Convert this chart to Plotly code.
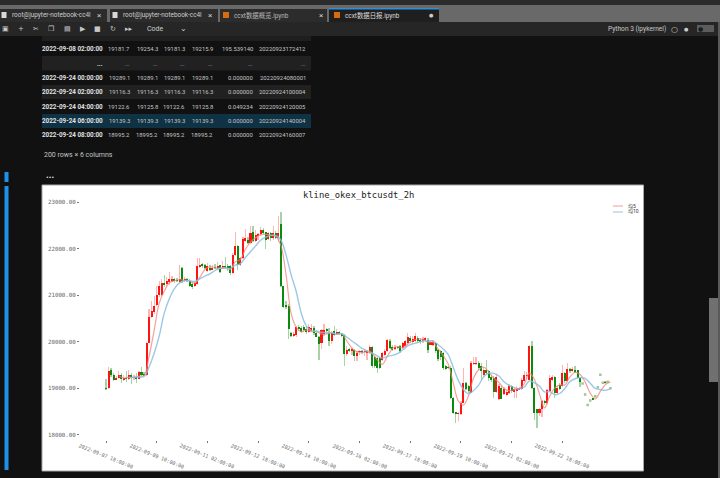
import pandas as pd
import plotly.graph_objects as go

# kline data (2h bars)
times = pd.date_range("2022-09-07 18:00:00", periods=200, freq="2h").strftime("%Y-%m-%d %H:%M:%S").tolist()

opens = [
    19002, 19000, 19380, 19290, 19181.7, 19215, 19280, 19190, 19215, 19200,
    19290, 19220, 19230, 19200, 19340, 19300, 19290, 19980, 20540, 20630,
    20790, 21000, 21010, 21270, 21240, 21300, 21300, 21350, 21320, 21280,
    21590, 21300, 21350, 21310, 21240, 21200, 21250, 21600, 21670, 21640,
    21520, 21590, 21560, 21600, 21590, 21640, 21600, 21620, 21610, 21620,
    21470, 21870, 22060, 21650, 21800, 22170, 22180, 22120, 22350, 22170,
    22280, 22310, 22400, 22350, 22200, 22330, 22230, 22340, 22230, 22540,
    21190, 20790, 20760, 20190, 20130, 20150, 20300, 20290, 20310, 20270,
    20200, 20220, 20300, 20180, 20110, 19970, 20170, 20260, 20190, 20010,
    20220, 20170, 20200, 20150, 20150, 19730, 19840, 19800, 19830, 19690,
    19780, 19790, 19780, 19760, 19750, 19880, 19670, 19650, 19650, 19610,
    19720, 19790, 20005, 19880, 19860, 19880, 19900, 19860, 19910, 19970,
    20075, 19985, 20005, 20075, 20040, 20005, 20040, 20040, 19935, 19935,
    19970, 19830, 19790, 19755, 19470, 19450, 19430, 18790, 18470, 18450,
    18450, 18680, 19110, 19040, 18900, 19530, 19530, 19540, 19470, 19280,
    19380, 19360, 19250, 19220, 18920, 18770, 19000, 18880, 18860, 18900,
    19040, 18910, 18930, 18970, 18980, 19150, 19270, 19180, 19900, 19000,
    18540, 18470, 18540, 18720, 18670, 18930, 19180, 19240, 18890, 19070,
    19040, 19320, 19150, 19410, 19370, 19400, 19380, 19220, 19097, 18861,
    18639, 18732, 18790, 18825, 19018, 19289.1, 19116.3, 19122.6, 19139.3, 18995.2,
]
closes = [
    18998, 19360, 19290, 19180, 19215.9, 19280, 19190, 19215, 19200, 19290,
    19220, 19230, 19200, 19340, 19300, 19280, 19980, 20540, 20650, 20760,
    21000, 21190, 21260, 21240, 21300, 21340, 21350, 21320, 21310, 21340,
    21300, 21350, 21320, 21200, 21170, 21260, 21620, 21660, 21620, 21600,
    21620, 21560, 21590, 21590, 21610, 21500, 21620, 21600, 21590, 21470,
    21870, 22060, 21650, 21800, 22200, 22240, 22130, 22340, 22170, 22300,
    22310, 22400, 22340, 22190, 22330, 22230, 22340, 22230, 22345, 21190,
    20750, 20740, 20270, 20130, 20150, 20310, 20280, 20200, 20270, 20200,
    20310, 20300, 20180, 20110, 19960, 20260, 20260, 20240, 20010, 20190,
    20150, 20200, 20180, 20130, 19730, 19830, 19800, 19830, 19690, 19760,
    19790, 19780, 19790, 19790, 19880, 19470, 19470, 19430, 19430, 19750,
    19790, 20030, 19860, 19830, 19880, 19870, 19790, 19970, 20005, 20090,
    20005, 20055, 20130, 20005, 19985, 20055, 20075, 19830, 19985, 19985,
    19790, 19625, 19680, 19430, 19410, 19440, 18790, 18470, 18450, 18460,
    18690, 19110, 18980, 18930, 19530, 19540, 19540, 19430, 19360, 19400,
    19320, 19220, 19180, 18920, 19250, 19040, 18770, 18980, 18910, 19040,
    18930, 18980, 19000, 19000, 19180, 19280, 19280, 19900, 19000, 18470,
    18470, 18540, 18720, 18670, 18970, 19220, 19250, 18890, 19000, 18980,
    19320, 19150, 19410, 19360, 19400, 19360, 19220, 19130, 19097, 18861,
    18639, 18732, 18760, 18825, 19018, 19289.1, 19116.3, 19125.8, 19139.3, 18995.2,
]
highs = [
    19197, 19450, 19430, 19320, 19254.3, 19370, 19320, 19280, 19360, 19380,
    19330, 19290, 19320, 19370, 19450, 19350, 20000, 20710, 20870, 20980,
    21190, 21300, 21350, 21440, 21400, 21500, 21420, 21380, 21370, 21650,
    21610, 21400, 21380, 21340, 21280, 21300, 21800, 21800, 21700, 21680,
    21700, 21640, 21650, 21670, 21720, 21660, 21740, 21830, 21680, 21650,
    21900, 22350, 22080, 21830, 22250, 22430, 22260, 22490, 22490, 22400,
    22340, 22460, 22440, 22370, 22370, 22370, 22480, 22380, 22700, 22800,
    21200, 20880, 20800, 20210, 20200, 20340, 20350, 20330, 20350, 20330,
    20370, 20370, 20340, 20200, 20130, 20280, 20390, 20290, 20300, 20230,
    20330, 20270, 20230, 20180, 20170, 19900, 19870, 19870, 19850, 19790,
    19820, 19830, 19830, 19820, 19920, 19900, 19690, 19670, 19670, 19770,
    19840, 20060, 20060, 19920, 19920, 19910, 19920, 19990, 20030, 20190,
    20130, 20120, 20180, 20120, 20070, 20100, 20110, 20070, 20020, 20040,
    20000, 19850, 19810, 19770, 19490, 19470, 19470, 18800, 18490, 18480,
    18720, 19430, 19140, 19060, 19580, 19680, 19680, 19580, 19540, 19450,
    19600, 19400, 19290, 19260, 19300, 19090, 19040, 19020, 18950, 19080,
    19060, 19020, 19040, 19030, 19210, 19360, 19340, 19930, 20010, 19020,
    18560, 18570, 18740, 18740, 18990, 19290, 19290, 19260, 19040, 19100,
    19500, 19340, 19530, 19430, 19450, 19480, 19400, 19240, 19097, 18861,
    18639, 18732, 18790, 18825, 19018, 19289.1, 19116.3, 19125.8, 19139.3, 18995.2,
]
lows = [
    18968, 18990, 19230, 19150, 19181.3, 19190, 19120, 19160, 19130, 19170,
    19080, 19180, 19110, 19190, 19270, 19260, 19270, 19970, 20500, 20600,
    20770, 20970, 20990, 21170, 21200, 21230, 21280, 21270, 21280, 21260,
    21270, 21280, 21290, 21170, 21130, 21170, 21230, 21580, 21590, 21570,
    21500, 21530, 21540, 21570, 21570, 21470, 21560, 21560, 21510, 21440,
    21450, 21840, 21550, 21620, 21780, 22140, 22100, 22100, 22150, 22150,
    22190, 22280, 22320, 22000, 22180, 22170, 22180, 22200, 22150, 21180,
    20730, 20710, 20060, 20110, 20110, 20110, 20240, 20180, 20200, 20160,
    20190, 20200, 20150, 20090, 19610, 19840, 20130, 20190, 19910, 19940,
    20120, 20150, 20150, 20100, 19470, 19700, 19770, 19720, 19580, 19580,
    19720, 19740, 19700, 19610, 19730, 19430, 19430, 19330, 19410, 19590,
    19690, 19780, 19840, 19790, 19830, 19840, 19760, 19840, 19890, 19950,
    19980, 19960, 19990, 19980, 19950, 19980, 20020, 19750, 19920, 19910,
    19750, 19590, 19600, 19400, 19380, 19410, 18770, 18440, 18250, 18300,
    18430, 18670, 18950, 18900, 18890, 19500, 19500, 19400, 19180, 19250,
    19280, 19150, 19130, 18790, 18900, 18750, 18760, 18860, 18840, 18880,
    18900, 18780, 18790, 18950, 18960, 19130, 19180, 19170, 18980, 18320,
    18145, 18390, 18380, 18640, 18650, 18910, 19160, 18790, 18870, 18950,
    19020, 19120, 19130, 19320, 19350, 19330, 19200, 19020, 19097, 18861,
    18639, 18732, 18760, 18825, 19018, 19289.1, 19116.3, 19122.6, 19139.3, 18995.2,
]

# the two average lines, read at every second bar
ma5_times = times[5::2]
ma5 = [
    19265, 19216, 19235, 19231, 19256, 19270, 19688, 20242, 20828, 21090,
    21266, 21310, 21332, 21324, 21302, 21260, 21382, 21552, 21612, 21592,
    21570, 21584, 21556, 21718, 21770, 21990, 22142, 22236, 22304, 22308,
    22298, 22264, 22067, 21451, 20616, 20320, 20214, 20252, 20216, 20220,
    20162, 20166, 20192, 20158, 20170, 20014, 19864, 19782, 19770, 19782,
    19742, 19608, 19510, 19686, 19852, 19894, 19868, 19945, 20025, 20057,
    20046, 19990, 19986, 19843, 19702, 19517, 19108, 18722, 18636, 18834,
    19218, 19394, 19454, 19346, 19208, 19122, 18992, 18948, 18968, 18990,
    19088, 19328, 19186, 18876, 18574, 18824, 19000, 19068, 19068, 19244,
    19336, 19294, 19134, 18892, 18766, 18928, 19075, 19132,
]
ma10_times = times[9::2]
ma10 = [
    19222, 19235, 19240, 19250, 19458, 19750, 20124, 20620, 20926, 21141,
    21265, 21311, 21313, 21294, 21353, 21410, 21461, 21531, 21585, 21591,
    21573, 21649, 21675, 21810, 21936, 22060, 22182, 22249, 22284, 22285,
    22184, 21868, 21443, 21085, 20617, 20341, 20238, 20230, 20201, 20193,
    20191, 20159, 20175, 20095, 20015, 19936, 19855, 19801, 19758, 19692,
    19645, 19683, 19704, 19742, 19819, 19908, 19953, 19981, 20016, 20015,
    20018, 19932, 19844, 19719, 19442, 19166, 18973, 18875, 18949, 19065,
    19242, 19323, 19317, 19261, 19136, 19057, 19012, 18980, 19023, 19154,
    19113, 19043, 18917, 18927, 18860, 18884, 18989, 19140, 19202, 19225,
    19212, 19106, 18993, 18969, 18952, 18991,
]

y_ticks = [18000, 19000, 20000, 21000, 22000, 23000]
x_ticks = times[::20]

# the dataframe rows above the chart
table_index = [
    "2022-09-08 02:00:00", "...", "2022-09-24 00:00:00", "2022-09-24 02:00:00",
    "2022-09-24 04:00:00", "2022-09-24 06:00:00", "2022-09-24 08:00:00",
]
table_rows = [
    ["19181.7", "19254.3", "19181.3", "19215.9", "195.539140", "20220923172412"],
    ["...", "...", "...", "...", "...", "..."],
    ["19289.1", "19289.1", "19289.1", "19289.1", "0.000000", "20220924080001"],
    ["19116.3", "19116.3", "19116.3", "19116.3", "0.000000", "20220924100004"],
    ["19122.6", "19125.8", "19122.6", "19125.8", "0.049234", "20220924120005"],
    ["19139.3", "19139.3", "19139.3", "19139.3", "0.000000", "20220924140004"],
    ["18995.2", "18995.2", "18995.2", "18995.2", "0.000000", "20220924160007"],
]

W, H = 720, 478
DARK = "#111111"
RED = "#ff1414"
GREEN = "#0b8a0b"
PALE_RED = "rgba(255,60,60,0.38)"
PALE_GREEN = "rgba(20,140,20,0.38)"
SANS = "Roboto, Noto Sans CJK SC, sans-serif"
MONO = "DejaVu Sans Mono, monospace"
ICONS = "DejaVu Sans"


def rect(x0, y0, x1, y1, color, line=None):
    """Window chrome rectangle, given in screen pixels."""
    return dict(type="rect", xref="paper", yref="paper", layer="below",
                x0=x0 / W, x1=x1 / W, y0=1 - y0 / H, y1=1 - y1 / H,
                fillcolor=color, line=dict(width=1 if line else 0, color=line or color))


def label(x, y, text, size=6.4, color="#cccccc", anchor="left", family=SANS):
    """Text placed in screen pixels."""
    return dict(xref="paper", yref="paper", x=x / W, y=1 - y / H, text=text, showarrow=False,
                xanchor=anchor, yanchor="middle", font=dict(size=size, color=color, family=family))


is_up = [c >= o for o, c in zip(opens, closes)]
flat = [h - l < 5 for h, l in zip(highs, lows)]

fig = go.Figure()

# wicks, pale and thin
fig.add_trace(go.Bar(x=times, y=[h - l for h, l in zip(highs, lows)], base=lows, width=0.5,
                     marker=dict(color=[PALE_RED if u else PALE_GREEN for u in is_up], line_width=0)))
# candle bodies
fig.add_trace(go.Bar(x=times, y=[abs(c - o) for o, c in zip(opens, closes)],
                     base=[min(o, c) for o, c in zip(opens, closes)], width=0.8,
                     marker=dict(color=[RED if u else GREEN for u in is_up], line_width=0)))
# no-volume bars have no height, they only show as a dot
fig.add_trace(go.Scatter(x=[t for t, f in zip(times, flat) if f],
                         y=[c for c, f in zip(closes, flat) if f],
                         mode="markers",
                         marker=dict(symbol="square", size=2.5, color="rgba(20,140,20,0.45)")))
fig.add_trace(go.Scatter(x=ma5_times, y=ma5, mode="lines",
                         line=dict(color="rgba(240,130,120,0.75)", width=1.2, shape="spline", smoothing=1)))
fig.add_trace(go.Scatter(x=ma10_times, y=ma10, mode="lines",
                         line=dict(color="rgba(140,190,225,0.85)", width=1.4, shape="spline", smoothing=1)))

shapes = [
    # window chrome
    rect(0, 0, 720, 5, "#2b2b2b"),
    rect(0, 5, 720, 22, "#696969"),
    rect(0, 9, 107, 22, "#2c2c2c"),
    rect(110, 9, 218, 22, "#2c2c2c"),
    rect(220, 9, 327, 22, "#2c2c2c"),
    rect(329, 9, 439, 22, "#1f1f1f"),
    rect(329, 8, 439, 9.5, "#2f8fd8"),
    rect(0, 22, 720, 36, "#262626"),
    rect(0, 36, 718, 478, DARK),
    rect(718, 22, 720, 478, "#5a5a5a"),
    rect(709, 298, 718, 382, "#707070"),
    rect(697, 25, 714, 32, "#5c5c5c"),
    # icons on the tabs
    rect(1.5, 12, 6.5, 18, "#d8d8d8"),
    rect(112.5, 12, 117.5, 18, "#d8d8d8"),
    rect(223, 12, 229, 18, "#d86a10"),
    rect(334, 12, 340, 18, "#d86a10"),
    # table stripes
    rect(42, 36, 311, 41, "#1f1f1f"),
    rect(42, 56, 311, 70.5, "#212121"),
    rect(42, 85, 311, 99, "#212121"),
    rect(42, 114, 311, 128, "#0f3345"),
    # cell markers
    rect(4.5, 172, 8.5, 182, "#1e90e8"),
    rect(4.5, 186, 8.5, 470, "#1e90e8"),
    # white chart output
    rect(42, 185, 643.5, 471, "white", line="#a8a8a8"),
    # legend samples
    dict(type="line", xref="paper", yref="paper", x0=613 / W, x1=623 / W,
         y0=1 - 206 / H, y1=1 - 206 / H, line=dict(color="rgba(240,130,120,0.8)", width=1)),
    dict(type="line", xref="paper", yref="paper", x0=613 / W, x1=623 / W,
         y0=1 - 212 / H, y1=1 - 212 / H, line=dict(color="rgba(140,190,225,0.9)", width=1)),
]

annotations = [
    label(10, 15, "root@jupyter-notebook-cc4l"),
    label(120.5, 15, "root@jupyter-notebook-cc4l"),
    label(231.5, 15, "ccxt数据概览.ipynb", color="#b8b8b8"),
    label(342.5, 15, "ccxt数据日报.ipynb", color="#dddddd"),
    label(99, 15, "×", size=8, anchor="center"),
    label(210, 15, "×", size=8, anchor="center"),
    label(320.5, 15, "×", size=8, anchor="center"),
    label(431, 15, "●", size=5, anchor="center", family=ICONS),
    label(606, 29, "Python 3 (ipykernel)", size=6.6, color="#c8c8c8"),
    label(674, 29, "○", size=8, anchor="center", family=ICONS),
    label(686, 29, "●", size=5, anchor="center", family=ICONS),
    label(700.5, 28.5, "●", size=6, color="#1c1c1c", anchor="center", family=ICONS),
    label(145, 29, "Code", size=7),
    label(183, 28, "⌄", size=8, anchor="center", family=ICONS),
    label(42, 155, "200 rows × 6 columns", size=7, color="#c4c4c4"),
    label(50, 177, "•••", size=8, anchor="center", color="#dddddd"),
    label(358.5, 195, "kline_okex_btcusdt_2h", size=8.8, color="#222222", anchor="center", family=MONO),
    label(626, 206, "均5", size=5, color="#333333"),
    label(626, 212, "均10", size=5, color="#333333"),
]

for x_px, icon in zip([5, 21, 36, 51, 67, 83, 98, 113, 129],
                      ["▣", "+", "✂", "❐", "▤", "▶", "■", "↻", "▸▸"]):
    annotations.append(label(x_px, 29, icon, size=7, color="#c8c8c8", anchor="center", family=ICONS))

# table text
row_y = [49, 64, 78, 92, 107, 121, 135]
col_x = [132, 159.5, 187, 214.5, 255, 308]
for y_px, idx, row in zip(row_y, table_index, table_rows):
    annotations.append(label(105, y_px, f"<b>{idx}</b>", size=6.3, color="#e0e0e0", anchor="right"))
    for x_px, cell in zip(col_x, row):
        annotations.append(label(x_px, y_px, cell, size=5.9, color="#c4c4c4", anchor="right"))

# slanted date labels, centred under their ticks
for tick in x_ticks:
    annotations.append(dict(xref="x", yref="paper", x=tick, y=1 - 455.5 / H, text=tick, showarrow=False,
                            textangle=22, xanchor="center", yanchor="middle",
                            font=dict(size=5.1, color="#707070", family=MONO)))

fig.update_layout(
    width=W, height=H, autosize=False,
    margin=dict(l=0, r=0, t=0, b=0),
    paper_bgcolor=DARK,
    plot_bgcolor="rgba(0,0,0,0)",
    showlegend=False,
    barmode="overlay",
    bargap=0,
    shapes=shapes,
    annotations=annotations,
    xaxis=dict(type="category", categoryorder="array", categoryarray=times,
               domain=[80 / W, 640 / W], range=[-10.26, 210.65],
               anchor="y", tickmode="array", tickvals=x_ticks, ticktext=[""] * len(x_ticks),
               ticks="outside", ticklen=2, tickwidth=1, tickcolor="#777777",
               showgrid=False, zeroline=False, showline=False),
    yaxis=dict(domain=[1 - 439.5 / H, 1 - 190 / H], range=[17894, 23264],
               tickmode="array", tickvals=y_ticks, ticktext=[f"{v}.00" for v in y_ticks],
               tickfont=dict(size=5.8, color="#666666", family=MONO),
               ticks="outside", ticklen=2, tickwidth=1, tickcolor="#777777",
               showgrid=False, zeroline=False, showline=False),
)

fig.write_html("out.html", config=dict(displayModeBar=False),
               post_script="document.body.style.margin='0';document.body.style.overflow='hidden';")
